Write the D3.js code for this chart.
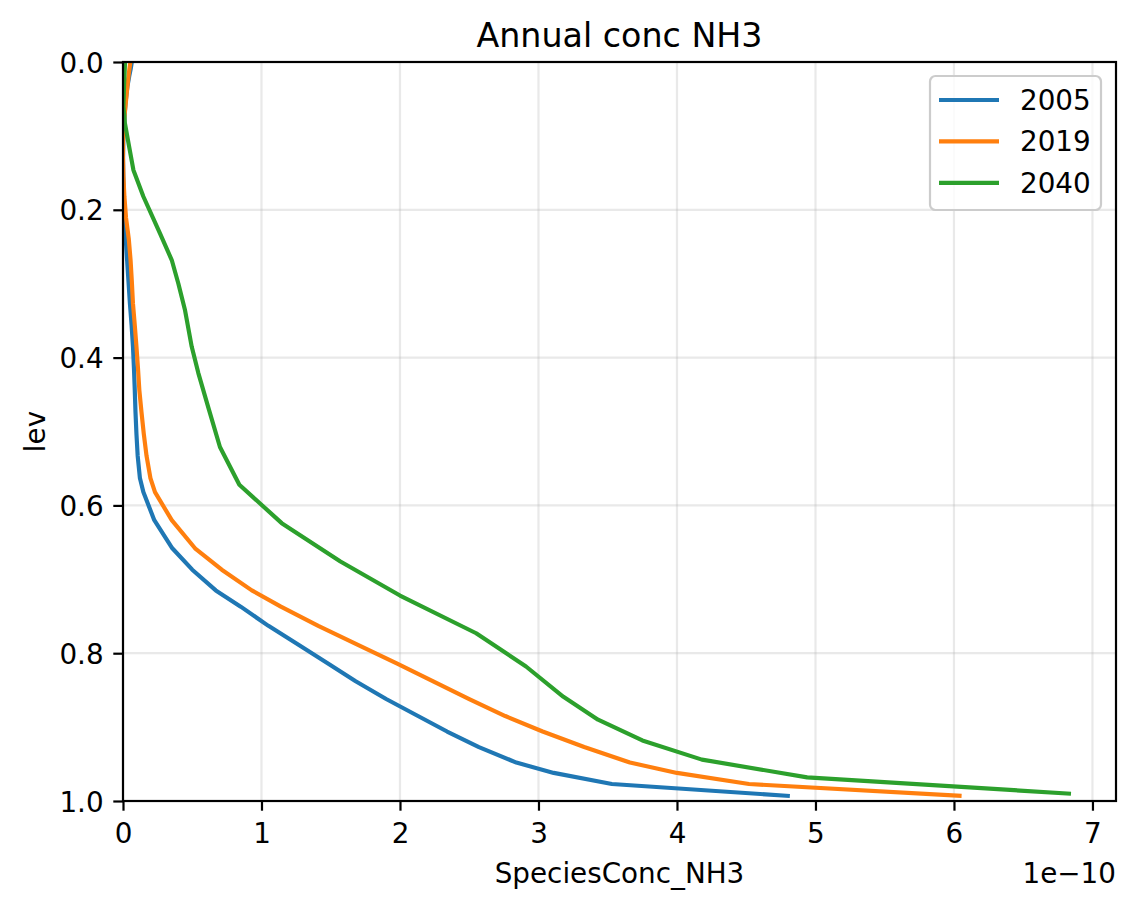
<!DOCTYPE html>
<html>
<head>
<meta charset="utf-8">
<title>Annual conc NH3</title>
<script src="https://cdn.jsdelivr.net/npm/d3@7"></script>
<style>
  body { margin: 0; background: #fff; }
  text { font-family: "DejaVu Sans", sans-serif; fill: #000; }
</style>
</head>
<body>
<div id="chart"></div>
<script>
// Data (concentration in units of 1e-10)
const years = ['2005', '2019', '2040']
const colors = ['#1f77b4', '#ff7f0e', '#2ca02c']

// model levels used by the 2005 and 2019 runs
const levA = [0.002, 0.010, 0.019, 0.033, 0.044, 0.056, 0.071, 0.088, 0.108, 0.130,
  0.155, 0.182, 0.211, 0.240, 0.269, 0.298, 0.327, 0.356, 0.385, 0.414,
  0.444, 0.473, 0.503, 0.533, 0.563, 0.582, 0.620, 0.658, 0.687, 0.715,
  0.737, 0.763, 0.789, 0.814, 0.838, 0.862, 0.885, 0.906, 0.927, 0.948,
  0.962, 0.977, 0.993]
const conc2005 = [0.062, 0.055, 0.045, 0.032, 0.025, 0.018, 0.012, 0.006, 0.002, 0.0,
  0.002, 0.006, 0.012, 0.020, 0.030, 0.040, 0.050, 0.062, 0.072, 0.079,
  0.085, 0.090, 0.097, 0.106, 0.122, 0.147, 0.226, 0.356, 0.500, 0.670,
  0.850, 1.05, 1.27, 1.48, 1.68, 1.90, 2.13, 2.34, 2.57, 2.84,
  3.11, 3.53, 4.80]
const conc2019 = [0.052, 0.046, 0.040, 0.032, 0.026, 0.020, 0.012, 0.004, 0.0, 0.0,
  0.003, 0.010, 0.022, 0.042, 0.055, 0.064, 0.072, 0.085, 0.097, 0.108,
  0.118, 0.133, 0.150, 0.170, 0.198, 0.231, 0.352, 0.520, 0.713, 0.930,
  1.14, 1.41, 1.70, 1.98, 2.24, 2.50, 2.76, 3.03, 3.33, 3.66,
  4.00, 4.52, 6.04]

// levels of the 2040 run
const levB = [0.0, 0.030, 0.060, 0.083, 0.110, 0.146, 0.182, 0.232, 0.268, 0.300,
  0.336, 0.385, 0.421, 0.470, 0.521, 0.572, 0.624, 0.676, 0.722, 0.773,
  0.818, 0.859, 0.890, 0.918, 0.944, 0.968, 0.990]
const conc2040 = [0.015, 0.008, 0.003, 0.014, 0.040, 0.075, 0.147, 0.267, 0.352, 0.400,
  0.448, 0.496, 0.544, 0.620, 0.700, 0.840, 1.146, 1.570, 2.000, 2.550,
  2.910, 3.180, 3.430, 3.750, 4.180, 4.940, 6.830]

const xTicks = [0, 1, 2, 3, 4, 5, 6, 7]
const yTicks = [0.0, 0.2, 0.4, 0.6, 0.8, 1.0]

async function draw() {
  const series = [
    { name: years[0], color: colors[0], values: levA.map((l, i) => ({ lev: l, c: conc2005[i] })) },
    { name: years[1], color: colors[1], values: levA.map((l, i) => ({ lev: l, c: conc2019[i] })) },
    { name: years[2], color: colors[2], values: levB.map((l, i) => ({ lev: l, c: conc2040[i] })) }
  ]

  // Dimensions
  let dimensions = {
    width: 1134,
    height: 909,
    left: 123,
    right: 1116,
    top: 62,
    bottom: 801
  }
  const fs = 27.8   // 10pt at 200 dpi
  const lw = 2.2    // 0.8pt

  const svg = d3.select('#chart')
    .append('svg')
    .attr('width', dimensions.width)
    .attr('height', dimensions.height)

  svg.append('rect')
    .attr('width', dimensions.width)
    .attr('height', dimensions.height)
    .attr('fill', '#fff')

  // Scales
  const xScale = d3.scaleLinear()
    .domain([0, 7.17])
    .range([dimensions.left, dimensions.right])
  const yScale = d3.scaleLinear()
    .domain([0, 1])
    .range([dimensions.top, dimensions.bottom])

  // grid
  const grid = svg.append('g')
  grid.selectAll('.gx').data(xTicks).join('line')
    .attr('x1', d => xScale(d)).attr('x2', d => xScale(d))
    .attr('y1', dimensions.top).attr('y2', dimensions.bottom)
  grid.selectAll('.gy').data(yTicks).join('line')
    .attr('class', 'gy')
    .attr('x1', dimensions.left).attr('x2', dimensions.right)
    .attr('y1', d => yScale(d)).attr('y2', d => yScale(d))
  grid.selectAll('line')
    .attr('stroke', '#b0b0b0')
    .attr('stroke-opacity', 0.28)
    .attr('stroke-width', lw)

  // lines
  svg.append('clipPath').attr('id', 'clip')
    .append('rect')
    .attr('x', dimensions.left).attr('y', dimensions.top)
    .attr('width', dimensions.right - dimensions.left)
    .attr('height', dimensions.bottom - dimensions.top)

  const lineGenerator = d3.line()
    .x(d => xScale(d.c))
    .y(d => yScale(d.lev))

  svg.append('g').attr('clip-path', 'url(#clip)')
    .selectAll('path').data(series).join('path')
    .attr('d', d => lineGenerator(d.values))
    .attr('fill', 'none')
    .attr('stroke', d => d.color)
    .attr('stroke-width', 4.17)
    .attr('stroke-linejoin', 'round')
    .attr('stroke-linecap', 'square')

  // axes
  const xAxis = d3.axisBottom(xScale)
    .tickValues(xTicks)
    .tickFormat(d3.format('d'))
    .tickSize(9.7)
    .tickPadding(9)
  const yAxis = d3.axisLeft(yScale)
    .tickValues(yTicks)
    .tickFormat(d3.format('.1f'))
    .tickSize(9.7)
    .tickPadding(9.7)

  const xg = svg.append('g')
    .attr('transform', `translate(0, ${dimensions.bottom})`)
    .call(xAxis)
  const yg = svg.append('g')
    .attr('transform', `translate(${dimensions.left}, 0)`)
    .call(yAxis)

  for (const g of [xg, yg]) {
    g.select('.domain').remove()
    g.selectAll('.tick line').attr('stroke', '#000').attr('stroke-width', lw)
    g.selectAll('.tick text')
      .attr('font-family', '"DejaVu Sans", sans-serif')
      .attr('font-size', fs)
      .attr('fill', '#000')
  }
  xg.selectAll('.tick text').attr('dy', null).attr('y', 42)
  yg.selectAll('.tick text').attr('dy', '0.36em')

  // spines
  svg.append('rect')
    .attr('x', dimensions.left).attr('y', dimensions.top)
    .attr('width', dimensions.right - dimensions.left)
    .attr('height', dimensions.bottom - dimensions.top)
    .attr('fill', 'none')
    .attr('stroke', '#000')
    .attr('stroke-width', lw)

  // text
  const cx = (dimensions.left + dimensions.right) / 2
  svg.append('text')
    .attr('x', cx).attr('y', 47)
    .attr('text-anchor', 'middle')
    .attr('font-size', 33.3)
    .text('Annual conc NH3')
  svg.append('text')
    .attr('x', cx).attr('y', 883)
    .attr('text-anchor', 'middle')
    .attr('font-size', fs)
    .text('SpeciesConc_NH3')
  svg.append('text')
    .attr('x', dimensions.right).attr('y', 883)
    .attr('text-anchor', 'end')
    .attr('font-size', fs)
    .text('1e\u221210')
  svg.append('text')
    .attr('transform', `translate(45, ${(dimensions.top + dimensions.bottom) / 2}) rotate(-90)`)
    .attr('text-anchor', 'middle')
    .attr('font-size', fs)
    .text('lev')

  // legend
  const legend = svg.append('g')
    .attr('transform', `translate(930, 76)`)
  legend.append('rect')
    .attr('width', 171).attr('height', 134)
    .attr('rx', 5.5)
    .attr('fill', '#fff').attr('fill-opacity', 0.8)
    .attr('stroke', '#cccccc').attr('stroke-width', lw)
  const item = legend.selectAll('.item').data(series).join('g')
    .attr('class', 'item')
    .attr('transform', (d, i) => `translate(0, ${24 + i * 41.4})`)
  item.append('line')
    .attr('x1', 9).attr('x2', 69)
    .attr('stroke', d => d.color)
    .attr('stroke-width', 4.17)
  item.append('text')
    .attr('x', 90).attr('y', 10)
    .attr('font-size', fs)
    .text(d => d.name)
}

draw()
</script>
</body>
</html>
